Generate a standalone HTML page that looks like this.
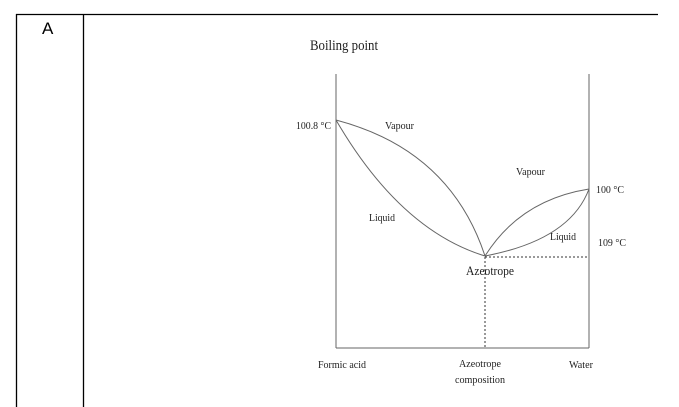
<!DOCTYPE html>
<html><head><meta charset="utf-8"><style>
html,body{margin:0;padding:0;background:#fff;width:679px;height:407px;overflow:hidden}
svg{display:block}
</style></head><body>
<svg width="679" height="407" viewBox="0 0 679 407" xmlns="http://www.w3.org/2000/svg">
<g stroke="#000" stroke-width="1.3" fill="none">
<line x1="16" y1="14.5" x2="658" y2="14.5"/>
<line x1="16.5" y1="14" x2="16.5" y2="407"/>
<line x1="83.5" y1="14" x2="83.5" y2="407"/>
</g>
<text x="42" y="34" font-family="Liberation Sans, sans-serif" font-size="17">A</text>
<g stroke="#666" stroke-width="1" fill="none">
<line x1="336" y1="74" x2="336" y2="348"/>
<line x1="589" y1="74" x2="589" y2="348"/>
<line x1="336" y1="348" x2="589" y2="348"/>
<path d="M336 120 Q450 150 485 256"/>
<path d="M336 120 Q400 230 485 256"/>
<path d="M485 256 Q520 200 589 189"/>
<path d="M485 256 Q570 240 589 189"/>
</g>
<g stroke="#333" stroke-width="1" stroke-dasharray="2,2" fill="none">
<line x1="485" y1="257" x2="589" y2="257"/>
<line x1="485" y1="257" x2="485" y2="348"/>
</g>
<g font-family="Liberation Serif, serif" fill="#222" font-size="11">
<text x="310" y="50" font-size="15" textLength="68" lengthAdjust="spacingAndGlyphs">Boiling point</text>
<text x="296" y="129" textLength="35" lengthAdjust="spacingAndGlyphs">100.8 °C</text>
<text x="385" y="129" textLength="29" lengthAdjust="spacingAndGlyphs">Vapour</text>
<text x="516" y="175" textLength="29" lengthAdjust="spacingAndGlyphs">Vapour</text>
<text x="596" y="193" textLength="28" lengthAdjust="spacingAndGlyphs">100 °C</text>
<text x="369" y="221" textLength="26" lengthAdjust="spacingAndGlyphs">Liquid</text>
<text x="550" y="240" textLength="26" lengthAdjust="spacingAndGlyphs">Liquid</text>
<text x="598" y="246" textLength="28" lengthAdjust="spacingAndGlyphs">109 °C</text>
<text x="466" y="275" font-size="13" textLength="48" lengthAdjust="spacingAndGlyphs">Azeotrope</text>
<text x="318" y="368" textLength="48" lengthAdjust="spacingAndGlyphs">Formic acid</text>
<text x="459" y="367" textLength="42" lengthAdjust="spacingAndGlyphs">Azeotrope</text>
<text x="455" y="383" textLength="50" lengthAdjust="spacingAndGlyphs">composition</text>
<text x="569" y="368" textLength="24" lengthAdjust="spacingAndGlyphs">Water</text>
</g>
</svg>
</body></html>
